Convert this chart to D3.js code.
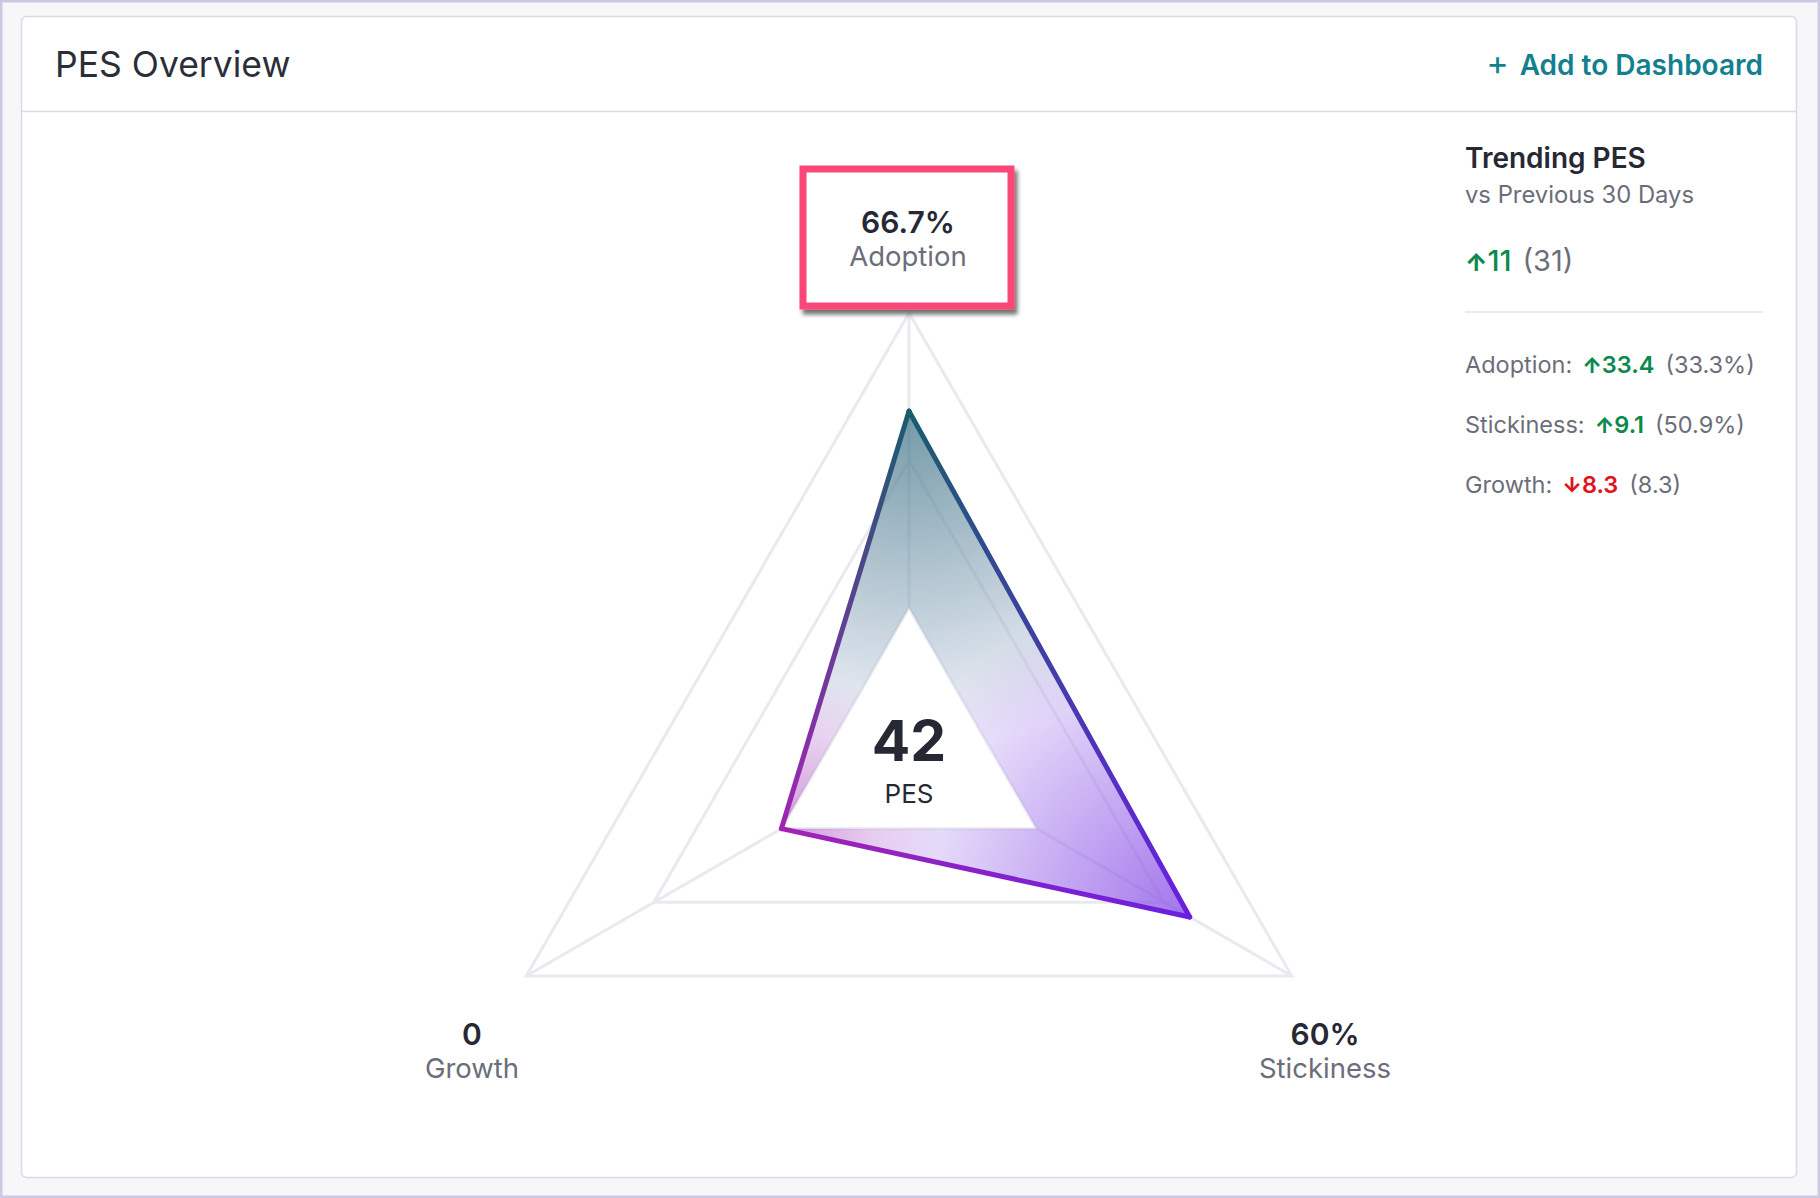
<!DOCTYPE html>
<html>
<head>
<meta charset="utf-8">
<style>
  html, body { margin: 0; padding: 0; background: #f7f7f9; }
  svg { display: block; font-family: Inter, "Noto Sans", sans-serif; }
</style>
</head>
<body>
<svg width="1820" height="1198"></svg>
<script src="https://cdn.jsdelivr.net/npm/d3@7"></script>
<script>

// data
var axes = ["Adoption", "Stickiness", "Growth"];
var values = [0.667, 0.60, 0.0];
var valueLabels = ["66.7%", "60%", "0"];
var gridLevels = [0, 0.5, 1];
var pesScore = 42;

var trendTotal = {change: "11", dir: "up", prev: "(31)"};
var trendNames = ["Adoption:", "Stickiness:", "Growth:"];
var trendChanges = ["33.4", "9.1", "8.3"];
var trendDirs = ["up", "up", "down"];
var trendPrev = ["(33.3%)", "(50.9%)", "(8.3)"];

var svg = d3.select("svg"),
    W = +svg.attr("width"),
    H = +svg.attr("height");

var defs = svg.append("defs");

// outer frame + card
svg.append("rect").attr("x", 1).attr("y", 1).attr("width", W - 2).attr("height", H - 2)
    .attr("fill", "#f7f7f9").attr("stroke", "#cdc9e4").attr("stroke-width", 3);
svg.append("rect").attr("x", 21.5).attr("y", 16.5).attr("width", 1775).attr("height", 1161)
    .attr("rx", 5).attr("fill", "#fff").attr("stroke", "#d9dae4").attr("stroke-width", 1.5);
svg.append("line").attr("x1", 22).attr("x2", 1796).attr("y1", 111.5).attr("y2", 111.5)
    .attr("stroke", "#d9dae4").attr("stroke-width", 1.5);

svg.append("text").attr("x", 55).attr("y", 77)
    .attr("font-size", 35.5).attr("fill", "#2b2e38").text("PES Overview");
var add = svg.append("text").attr("x", 1763).attr("y", 75).attr("text-anchor", "end")
    .attr("font-size", 28).attr("font-weight", 600).attr("fill", "#12808f");
add.append("tspan").attr("font-weight", 400).attr("font-size", 34).text("+");
add.append("tspan").attr("dx", 11).text("Add to Dashboard");

// radar
var cx = 909, cy = 755, R = 442;
var r = d3.scaleLinear().domain([0, 1]).range([R / 3, R]);
var angle = d3.scalePoint().domain(axes).range([-90, 150]);

function pt(axis, v) {
  var a = angle(axis) * Math.PI / 180;
  return [cx + r(v) * Math.cos(a), cy + r(v) * Math.sin(a)];
}

var g = svg.append("g");

// grid triangles and spokes
g.selectAll(".grid").data(gridLevels).enter().append("polygon")
    .attr("points", function(l) { return axes.map(function(a) { return pt(a, l); }).join(" "); })
    .attr("fill", "none").attr("stroke", "#e9eaf0").attr("stroke-width", 3);
g.selectAll(".spoke").data(axes).enter().append("line")
    .attr("x1", function(a) { return pt(a, 0)[0]; })
    .attr("y1", function(a) { return pt(a, 0)[1]; })
    .attr("x2", function(a) { return pt(a, 1)[0]; })
    .attr("y2", function(a) { return pt(a, 1)[1]; })
    .attr("stroke", "#e9eaf0").attr("stroke-width", 3);

var data = axes.map(function(a, i) { return pt(a, values[i]); });
var inner = axes.map(function(a) { return pt(a, 0); });

// vertex colours
var vColors = ["#1a5c6e", "#6a1fe0", "#a224b4"];
var vOpac = [0.6, 0.6, 0.45];
var vRad = [340, 330, 160];

var shape = "M" + data.join("L") + "Z" + "M" + inner.join("L") + "Z";

// soft lavender base so the middle is not pure white
g.append("path").attr("d", shape).attr("fill-rule", "evenodd")
    .attr("fill", "#ece6fa").attr("fill-opacity", 0.4);
data.forEach(function(p, i) {
  var gr = defs.append("radialGradient").attr("id", "fill" + i)
      .attr("gradientUnits", "userSpaceOnUse")
      .attr("cx", p[0]).attr("cy", p[1]).attr("r", vRad[i]);
  gr.append("stop").attr("offset", 0).attr("stop-color", vColors[i]).attr("stop-opacity", vOpac[i]);
  gr.append("stop").attr("offset", 1).attr("stop-color", vColors[i]).attr("stop-opacity", 0);
  g.append("path").attr("d", shape).attr("fill-rule", "evenodd")
      .attr("fill", "url(#fill" + i + ")");
});

// outline, one gradient per edge
var edges = [[0, 1], [1, 2], [2, 0]];
edges.forEach(function(e, k) {
  var a = data[e[0]], b = data[e[1]];
  var lg = defs.append("linearGradient").attr("id", "edge" + k)
      .attr("gradientUnits", "userSpaceOnUse")
      .attr("x1", a[0]).attr("y1", a[1]).attr("x2", b[0]).attr("y2", b[1]);
  lg.append("stop").attr("offset", 0).attr("stop-color", vColors[e[0]]);
  lg.append("stop").attr("offset", 1).attr("stop-color", vColors[e[1]]);
  g.append("line").attr("x1", a[0]).attr("y1", a[1]).attr("x2", b[0]).attr("y2", b[1])
      .attr("stroke", "url(#edge" + k + ")").attr("stroke-width", 5)
      .attr("stroke-linecap", "round");
});

// centre score
g.append("text").attr("x", cx).attr("y", 761).attr("text-anchor", "middle")
    .attr("font-size", 57).attr("font-weight", 700).attr("fill", "#262833").text(pesScore);
g.append("text").attr("x", cx).attr("y", 803).attr("text-anchor", "middle")
    .attr("font-size", 26).attr("fill", "#262833").text("PES");

// axis labels
var labelPos = {
  "Adoption": [908, 233],
  "Stickiness": [1325, 1045],
  "Growth": [472, 1045]
};

// highlight box on Adoption
defs.append("filter").attr("id", "shadow").attr("x", "-20%").attr("y", "-20%")
    .attr("width", "140%").attr("height", "140%")
  .append("feDropShadow").attr("dx", 3).attr("dy", 5).attr("stdDeviation", 2)
    .attr("flood-color", "#000").attr("flood-opacity", 0.55);
svg.append("rect").attr("x", 803).attr("y", 169).attr("width", 208).attr("height", 137)
    .attr("fill", "#fff").attr("stroke", "#fb4677").attr("stroke-width", 7)
    .attr("filter", "url(#shadow)");

axes.forEach(function(a, i) {
  var p = labelPos[a];
  svg.append("text").attr("x", p[0]).attr("y", p[1]).attr("text-anchor", "middle")
      .attr("font-size", 30).attr("font-weight", 600).attr("fill", "#262833")
      .text(valueLabels[i]);
  svg.append("text").attr("x", p[0]).attr("y", p[1] + 33).attr("text-anchor", "middle")
      .attr("font-size", 27.5).attr("fill", "#6b6e7a").text(a);
});

// trending panel
var px = 1465;
svg.append("text").attr("x", px).attr("y", 168).attr("font-size", 28)
    .attr("font-weight", 600).attr("fill", "#262833").text("Trending PES");
svg.append("text").attr("x", px).attr("y", 203).attr("font-size", 23.8)
    .attr("fill", "#6b6e7a").text("vs Previous 30 Days");

function arrow(d) { return d === "up" ? "\u2191" : "\u2193"; }
function tcol(d) { return d === "up" ? "#0c8a4e" : "#e0141c"; }

var tt = svg.append("text").attr("x", px).attr("y", 271).attr("font-size", 29);
tt.append("tspan").attr("fill", tcol(trendTotal.dir)).attr("font-weight", 800)
    .attr("font-size", 24).text(arrow(trendTotal.dir));
tt.append("tspan").attr("fill", tcol(trendTotal.dir)).attr("font-weight", 500)
    .text(trendTotal.change);
tt.append("tspan").attr("fill", "#6b6e7a").attr("dx", 11).text(trendTotal.prev);

svg.append("line").attr("x1", px).attr("x2", 1763).attr("y1", 312).attr("y2", 312)
    .attr("stroke", "#e9e9ee").attr("stroke-width", 2);

var ty = d3.scalePoint().domain(trendNames).range([373, 493]);
trendNames.forEach(function(n, i) {
  var t = svg.append("text").attr("x", px).attr("y", ty(n)).attr("font-size", 23.5);
  t.append("tspan").attr("fill", "#6b6e7a").text(n);
  t.append("tspan").attr("dx", 10).attr("fill", tcol(trendDirs[i])).attr("font-weight", 800)
      .attr("font-size", 21).text(arrow(trendDirs[i]));
  t.append("tspan").attr("fill", tcol(trendDirs[i])).attr("font-weight", 600).text(trendChanges[i]);
  t.append("tspan").attr("dx", 11).attr("fill", "#6b6e7a").text(trendPrev[i]);
});

</script>
</body>
</html>
